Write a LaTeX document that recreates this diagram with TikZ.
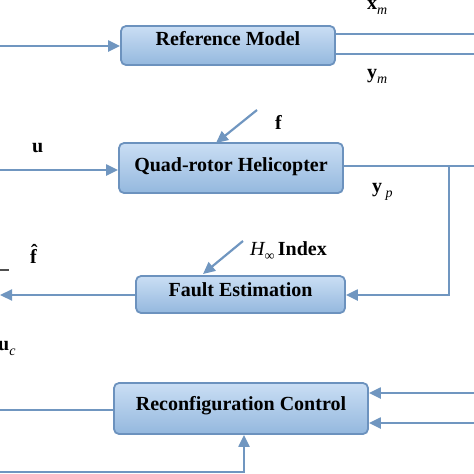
\documentclass[tikz,border=0pt]{standalone}
\usepackage{fontspec}
\setmainfont{Liberation Serif}
\usetikzlibrary{arrows.meta}
\definecolor{lineblue}{RGB}{112,150,192}
\definecolor{boxtop}{RGB}{202,222,244}
\definecolor{boxbot}{RGB}{148,184,222}
\definecolor{boxedge}{RGB}{108,146,190}
\definecolor{dashgray}{RGB}{80,80,80}
\newcommand{\subit}[1]{\raisebox{-5pt}{\fontsize{14}{14}\selectfont\normalfont\itshape #1}}
\tikzset{
  blockbox/.style={draw=boxedge, line width=1.8pt, rounded corners=5pt,
    top color=boxtop, bottom color=boxbot,
    font=\fontsize{20}{24}\selectfont\bfseries, inner sep=0pt, text height=14pt},
  wire/.style={draw=lineblue, line width=2.2pt},
  arr/.style={wire, -{Triangle[length=12pt,width=11pt]}},
  lbl/.style={font=\fontsize{20}{24}\selectfont\bfseries, inner sep=0pt, anchor=base west},
}
\begin{document}
\begin{tikzpicture}[x=1pt,y=-1pt]
\useasboundingbox (0,0) rectangle (474,474);
% blocks
\node[blockbox, minimum width=214pt, minimum height=39pt, text depth=13.7pt] (RM) at (228,45.5) {Reference Model};
\node[blockbox, minimum width=224pt, minimum height=50pt, text depth=7pt] (QH) at (231,168) {Quad-rotor Helicopter};
\node[blockbox, minimum width=209pt, minimum height=37pt, text depth=10.7pt] (FE) at (240.5,294.5) {Fault Estimation};
\node[blockbox, minimum width=254pt, minimum height=51pt, text depth=10.7pt] (RC) at (241,408.5) {Reconfiguration Control};
% coordinates
\coordinate (rmin) at (0,46);
\coordinate (xmout) at (474,34);
\coordinate (ymout) at (474,54);
\coordinate (qin) at (0,170);
\coordinate (fstart) at (257,110);
\coordinate (ftip) at (216,143);
\coordinate (qout) at (474,166);
\coordinate (split) at (449,166);
\coordinate (corner) at (449,295);
\coordinate (feout) at (0,295);
\coordinate (hstart) at (243,241);
\coordinate (htip) at (203,274);
\coordinate (rcout) at (0,410);
\coordinate (rcin1) at (474,393);
\coordinate (rcin2) at (474,423);
\coordinate (botL) at (0,472);
\coordinate (botC) at (244,472);
\coordinate (dashA) at (0,270);
\coordinate (dashB) at (9,270);
% connectors
\draw[arr] (rmin) -- (rmin -| RM.west);
\draw[wire] (xmout -| RM.east) -- (xmout);
\draw[wire] (ymout -| RM.east) -- (ymout);
\draw[arr] (qin) -- (qin -| QH.west);
\draw[arr] (fstart) -- (ftip);
\draw[wire] (qout -| QH.east) -- (qout);
\draw[arr] (split) -- (corner) -- (corner -| FE.east);
\draw[arr] (feout -| FE.west) -- (feout);
\draw[arr] (hstart) -- (htip);
\draw[wire] (rcout -| RC.west) -- (rcout);
\draw[arr] (rcin1) -- (rcin1 -| RC.east);
\draw[arr] (rcin2) -- (rcin2 -| RC.east);
\draw[arr] (botL) -- (botC) -- (RC.south -| botC);
\draw[dashgray, line width=1.2pt] (dashA) -- (dashB);
% labels
\node[lbl] (xm) at (367,9) {x\subit{m}};
\node[lbl] (ym) at (367,78) {y\subit{m}};
\node[lbl] (ul) at (32,152) {u};
\node[lbl] (fl) at (275,129) {f};
\node[lbl] (yp) at (372,192) {y\,\subit{p}};
\node[lbl] (fh) at (30,263) {\^{f}};
\node[lbl] (hi) at (250,255) {{\normalfont\itshape H}\raisebox{-5pt}{\fontsize{14}{14}\selectfont\normalfont ∞}\,Index};
\node[lbl] (uc) at (-2,350) {u\subit{c}};
\end{tikzpicture}
\end{document}
